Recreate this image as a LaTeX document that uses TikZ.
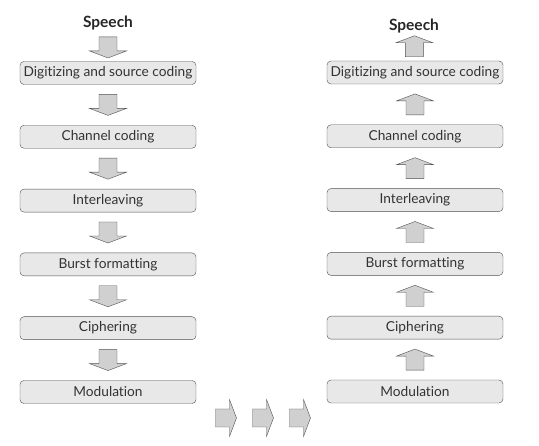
\documentclass[tikz,border=0pt]{standalone}
\usepackage{fontspec}
\setmainfont{Lato}[Ligatures=NoCommon]
\usetikzlibrary{calc}

\definecolor{boxfill}{HTML}{E8E8E8}
\definecolor{arrfill}{HTML}{D0D0D0}
\definecolor{edge}{HTML}{505050}
\definecolor{txt}{HTML}{333333}

\tikzset{
  stage/.style={draw=edge, fill=boxfill, rounded corners=4pt, text=txt,
    minimum width=176pt, minimum height=23pt, inner sep=0pt,
    font=\fontsize{13.7}{15}\selectfont},
  speech/.style={font=\fontsize{15.5}{17}\selectfont\bfseries, text=black!85},
  % block arrow pointing along +x, placed and turned with rotate
  blockarr/.pic={
    \draw[draw=edge, fill=arrfill, line join=miter]
      (-10.5,-9) -- (3.5,-9) -- (3.5,-18.5) -- (10.5,0) -- (3.5,18.5)
      -- (3.5,9) -- (-10.5,9) -- cycle;
  }
}

\begin{document}
\begin{tikzpicture}[x=1pt, y=1pt]
  \useasboundingbox (0,0) rectangle (539,446);

  \node[speech] (SL) at (108,423) {Speech};
  \node[speech] (SR) at (414,420) {Speech};

  \foreach \i/\t in {1/Digitizing and source coding, 2/Channel coding,
      3/Interleaving, 4/Burst formatting, 5/Ciphering, 6/Modulation} {
    \node[stage] (L\i) at (108,{373-63.8*(\i-1)}) {\t};
    \node[stage] (R\i) at (415,{373.5-63.8*(\i-1)}) {\t};
  }

  % sending side, top to bottom
  \pic[rotate=-90] at ($(SL.south)!0.5!(L1.north)$) {blockarr};
  \foreach \i [evaluate=\i as \j using int(\i+1)] in {1,...,5} {
    \pic[rotate=-90] at ($(L\i.south)!0.5!(L\j.north)$) {blockarr};
  }

  % receiving side, bottom to top
  \pic[rotate=90] at ($(SR.south)!0.4!(R1.north)$) {blockarr};
  \foreach \i [evaluate=\i as \j using int(\i+1)] in {1,...,5} {
    \pic[rotate=90] at ($(R\j.north)!0.5!(R\i.south)$) {blockarr};
  }

  % transmission
  \foreach \x in {226,263,300} {
    \pic at (\x,28) {blockarr};
  }
\end{tikzpicture}
\end{document}
